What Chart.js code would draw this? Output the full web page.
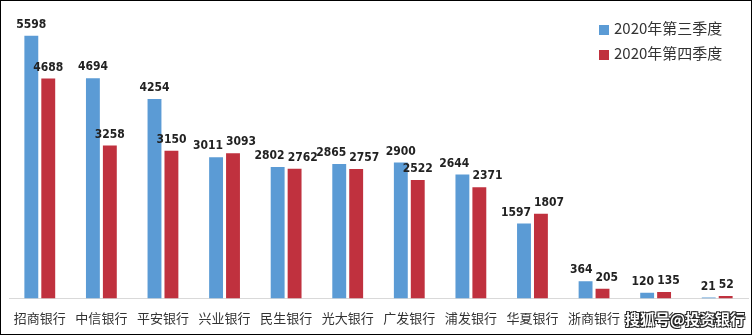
<!DOCTYPE html>
<html>
<head>
<meta charset="utf-8">
<script src="https://cdn.jsdelivr.net/npm/chart.js@4.4.1/dist/chart.umd.min.js"></script>
<style>
  body { margin: 0; background: #fff; }
  #wrap { position: relative; width: 750px; height: 333px; border: 1px solid #000; }
  #legend { position: absolute; left: 598px; top: 16px; font: 15px "Noto Sans CJK SC", sans-serif; color: #333; }
  #legend div { height: 25px; line-height: 21px; }
  #legend span { display: inline-block; width: 10px; height: 10px; margin-right: 5px; vertical-align: -1px; }
  #mark { position: absolute; left: 624px; top: 307px; font: bold 15px "Noto Sans CJK SC", sans-serif; color: #fff;
          text-shadow: -1px -1px 0 #222, 1px -1px 0 #222, -1px 1px 0 #222, 1px 1px 0 #222; }
</style>
</head>
<body>
<div id="wrap">
  <canvas id="chart" width="750" height="333"></canvas>
  <div id="legend">
    <div><span style="background:#5B9BD5"></span>2020年第三季度</div>
    <div><span style="background:#C0313E"></span>2020年第四季度</div>
  </div>
  <div id="mark">搜狐号@投资银行</div>
</div>
<script>
const banks = ["招商银行", "中信银行", "平安银行", "兴业银行", "民生银行", "光大银行", "广发银行", "浦发银行", "华夏银行", "浙商银行", "恒丰银行", "渤海银行"];
const q3 = [5598, 4694, 4254, 3011, 2802, 2865, 2900, 2644, 1597, 364, 120, 21];
const q4 = [4688, 3258, 3150, 3093, 2762, 2757, 2522, 2371, 1807, 205, 135, 52];

// 柱顶数值标签（两标签重叠时左右错开）
const valueLabels = {
    id: "valueLabels",
    afterDatasetsDraw(chart) {
        const ctx = chart.ctx;
        ctx.save();
        ctx.font = "bold 12px 'DejaVu Sans Condensed', sans-serif";
        ctx.fillStyle = "#222";
        ctx.textAlign = "center";
        ctx.textBaseline = "bottom";
        const a = chart.getDatasetMeta(0).data;
        const b = chart.getDatasetMeta(1).data;
        a.forEach((barA, j) => {
            const barB = b[j];
            const tA = String(q3[j]), tB = String(q4[j]);
            let xA = barA.x, xB = barB.x;
            const need = (ctx.measureText(tA).width + ctx.measureText(tB).width) / 2 + 3;
            if (Math.abs(barA.y - barB.y) < 14 && xB - xA < need) {
                const d = (need - (xB - xA)) / 2;
                xA -= d;
                xB += d;
            }
            ctx.fillText(tA, xA, barA.y - 5);
            ctx.fillText(tB, xB, barB.y - 5);
        });
        ctx.restore();
    }
};

new Chart(document.getElementById("chart"), {
    type: "bar",
    data: {
        labels: banks,
        datasets: [
            { label: "2020年第三季度", data: q3, backgroundColor: "#5B9BD5", barPercentage: 0.82, categoryPercentage: 0.55 },
            { label: "2020年第四季度", data: q4, backgroundColor: "#C0313E", barPercentage: 0.82, categoryPercentage: 0.55 }
        ]
    },
    options: {
        responsive: false,
        animation: false,
        layout: { padding: { left: 8, right: 3, top: 16, bottom: 4 } },
        scales: {
            y: { display: false, min: 0, max: 6000 },
            x: {
                grid: { display: false },
                border: { color: "#d9d9d9", width: 1 },
                ticks: { color: "#333", padding: 4, font: { size: 13, family: "'Noto Sans CJK SC', sans-serif" } }
            }
        },
        plugins: {
            legend: { display: false },
            tooltip: { enabled: false }
        }
    },
    plugins: [valueLabels]
});
</script>
</body>
</html>
